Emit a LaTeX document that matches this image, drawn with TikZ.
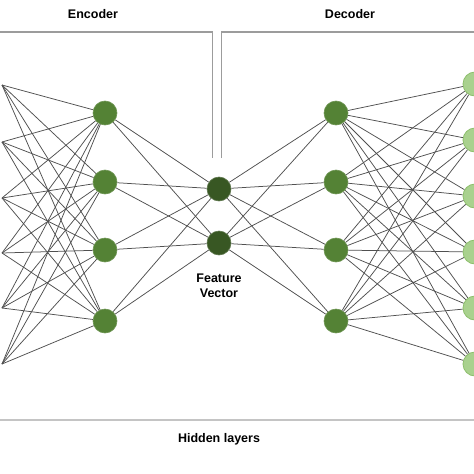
\documentclass[tikz,border=0pt]{standalone}
\usepackage{fontspec}
\setmainfont{Liberation Sans}
\begin{document}
\begin{tikzpicture}[x=1pt,y=-1pt,
  neuron/.style={circle,inner sep=0pt,minimum size=24pt},
  hid/.style={neuron,fill=hidgreen,draw=hidgreen!85!white,line width=0.6pt},
  feat/.style={neuron,fill=featgreen,draw=featgreen!80!white,line width=0.6pt},
  outn/.style={neuron,fill=outgreen,draw=outborder,line width=0.8pt},
  conn/.style={draw=linegray,line width=0.75pt},
  bracket/.style={draw=brgray,line width=1.2pt},
  lbl/.style={font=\fontsize{12.5}{15}\selectfont\bfseries,text=black,align=center}]
\definecolor{hidgreen}{HTML}{548235}
\definecolor{featgreen}{HTML}{385723}
\definecolor{outgreen}{HTML}{A9D18E}
\definecolor{outborder}{HTML}{8DBF6C}
\definecolor{linegray}{HTML}{505050}
\definecolor{brgray}{HTML}{9C9C9C}
\definecolor{botgray}{HTML}{C4C4C4}
\useasboundingbox (0,0) rectangle (474,474);
\fill[white] (0,0) rectangle (474,474);
% input coordinates (nodes off the left edge)
\foreach \i/\y in {1/85,2/142,3/198,4/253,5/308,6/364}
  \coordinate (in\i) at (2,\y);
% encoder hidden
\foreach \i/\y in {1/113,2/182,3/250,4/321}
  \node[hid] (h\i) at (105,\y) {};
% feature
\node[feat] (f1) at (219,189) {};
\node[feat] (f2) at (219,243) {};
% decoder hidden
\foreach \i/\y in {1/113,2/182,3/250,4/321}
  \node[hid] (d\i) at (336,\y) {};
% output
\foreach \i/\y in {1/84,2/140,3/196,4/252,5/308,6/364}
  \node[outn] (o\i) at (475,\y) {};
% connections
\foreach \i in {1,...,6}
  \foreach \j in {1,...,4}
    \draw[conn] (in\i) -- (h\j);
\foreach \j in {1,...,4}
  \foreach \k in {1,2}
    \draw[conn] (h\j) -- (f\k);
\foreach \k in {1,2}
  \foreach \j in {1,...,4}
    \draw[conn] (f\k) -- (d\j);
\foreach \j in {1,...,4}
  \foreach \i in {1,...,6}
    \draw[conn] (d\j) -- (o\i);
% brackets
\coordinate (ebl) at (0,32);
\coordinate (ebc) at (212.5,32);
\coordinate (ebe) at (212.5,158);
\coordinate (dbs) at (221.7,158);
\coordinate (dbc) at (221.7,32);
\coordinate (dbr) at (474,32);
\draw[bracket] (ebl) -- (ebc) -- (ebe);
\draw[bracket] (dbs) -- (dbc) -- (dbr);
\coordinate (bl) at (0,420);
\coordinate (br) at (474,420);
\draw[draw=botgray,line width=1.5pt] (bl) -- (br);
% labels
\node[lbl] (enc) at (93,14) {Encoder};
\node[lbl] (dec) at (350,14) {Decoder};
\node[lbl] (fv) at (219,286) {Feature\\Vector};
\node[lbl] (hl) at (219,439) {Hidden layers};
\end{tikzpicture}
\end{document}
